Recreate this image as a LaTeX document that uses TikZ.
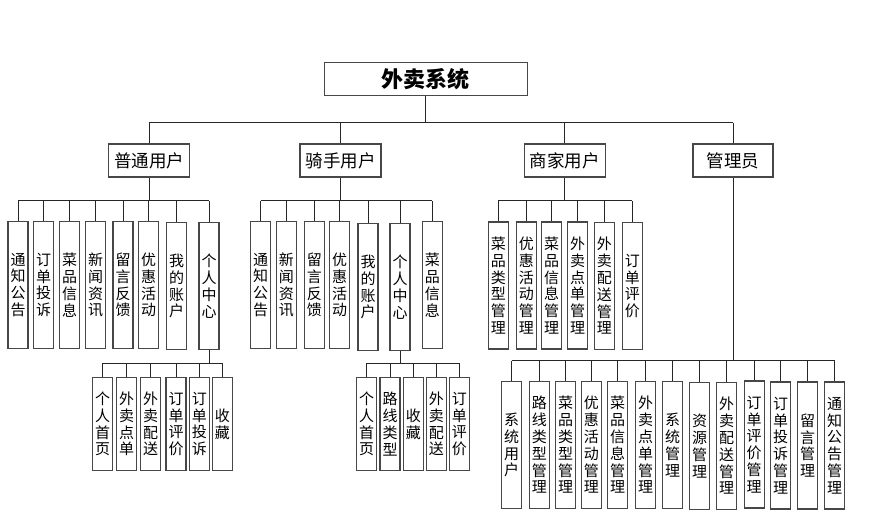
\documentclass[tikz,border=0pt]{standalone}
\usepackage{fontspec}
\newfontfamily\cjk{Noto Sans CJK SC}
\begin{document}
\begin{tikzpicture}[x=1pt,y=-1pt,
  vb/.style={draw=black!72, line width=1.3pt, inner sep=0pt, minimum width=20pt, align=center, font={\cjk\fontsize{15}{16.8}\selectfont}},
  lv/.style={draw=black!72, line width=1.3pt, inner sep=0pt, minimum height=33pt, font={\cjk\fontsize{17.5}{20}\selectfont}},
  ln/.style={draw=black!85, line width=1pt}]
\useasboundingbox (0,0) rectangle (870,523);
\fill[white] (0,0) rectangle (870,523);
% root and level 2
\node[lv, minimum width=203pt, font={\cjk\bfseries\fontsize{22}{26}\selectfont}] (root) at (425.8,79) {外卖系统};
\node[lv, minimum width=81pt] (p1) at (149,160.5) {普通用户};
\node[lv, minimum width=81pt] (p2) at (340.5,160.5) {骑手用户};
\node[lv, minimum width=81pt] (p3) at (564.7,160.5) {商家用户};
\node[lv, minimum width=80pt] (p4) at (733,160.5) {管理员};
% group A
\begin{scope}[every node/.append style={minimum height=127pt}]
\node[vb] (a1) at (18,285) {通\\知\\公\\告};
\node[vb] (a2) at (43.7,285) {订\\单\\投\\诉};
\node[vb] (a3) at (69.7,285) {菜\\品\\信\\息};
\node[vb] (a4) at (95.7,285) {新\\闻\\资\\讯};
\node[vb] (a5) at (123,285) {留\\言\\反\\馈};
\node[vb] (a6) at (148.7,285) {优\\惠\\活\\动};
\node[vb] (a7) at (176.7,286) {我\\的\\账\\户};
\node[vb] (a8) at (209,286) {个\\人\\中\\心};
% group B
\node[vb] (b1) at (260.7,285) {通\\知\\公\\告};
\node[vb] (b2) at (286.3,285) {新\\闻\\资\\讯};
\node[vb] (b3) at (314.3,285) {留\\言\\反\\馈};
\node[vb] (b4) at (339.7,285) {优\\惠\\活\\动};
\node[vb] (b5) at (368,287) {我\\的\\账\\户};
\node[vb] (b6) at (400,287) {个\\人\\中\\心};
\node[vb] (b7) at (432.3,285) {菜\\品\\信\\息};
% group C
\node[vb] (c1) at (498.3,285.5) {菜\\品\\类\\型\\管\\理};
\node[vb] (c2) at (526.3,285.5) {优\\惠\\活\\动\\管\\理};
\node[vb] (c3) at (551.7,285.5) {菜\\品\\信\\息\\管\\理};
\node[vb] (c4) at (577.7,285.5) {外\\卖\\点\\单\\管\\理};
\node[vb] (c5) at (604.3,286) {外\\卖\\配\\送\\管\\理};
\node[vb] (c6) at (632.3,286) {订\\单\\评\\价};
% group F
\node[vb] (f1) at (511.7,445) {系\\统\\用\\户};
\node[vb] (f2) at (539.3,445) {路\\线\\类\\型\\管\\理};
\node[vb] (f3) at (565.7,445) {菜\\品\\类\\型\\管\\理};
\node[vb] (f4) at (591.3,445) {优\\惠\\活\\动\\管\\理};
\node[vb] (f5) at (617.7,445) {菜\\品\\信\\息\\管\\理};
\node[vb] (f6) at (645.7,445) {外\\卖\\点\\单\\管\\理};
\node[vb] (f7) at (672.5,445) {系\\统\\管\\理};
\node[vb] (f8) at (699.7,446) {资\\源\\管\\理};
\node[vb] (f9) at (726.7,446) {外\\卖\\配\\送\\管\\理};
\node[vb] (f10) at (754.2,444.5) {订\\单\\评\\价\\管\\理};
\node[vb] (f11) at (780.7,445.5) {订\\单\\投\\诉\\管\\理};
\node[vb] (f12) at (807.7,445.5) {留\\言\\管\\理};
\node[vb] (f13) at (834.7,445.5) {通\\知\\公\\告\\管\\理};
\end{scope}
% group D
\begin{scope}[every node/.append style={minimum height=93pt}]
\node[vb] (d1) at (102.7,424) {个\\人\\首\\页};
\node[vb] (d2) at (126.7,424) {外\\卖\\点\\单};
\node[vb] (d3) at (150.7,424) {外\\卖\\配\\送};
\node[vb] (d4) at (176,424) {订\\单\\评\\价};
\node[vb] (d5) at (199.3,424) {订\\单\\投\\诉};
\node[vb] (d6) at (222.3,424) {收\\藏};
% group E
\node[vb] (e1) at (366.7,424) {个\\人\\首\\页};
\node[vb] (e2) at (390,424) {路\\线\\类\\型};
\node[vb] (e3) at (413.3,424) {收\\藏};
\node[vb] (e4) at (436.3,424) {外\\卖\\配\\送};
\node[vb] (e5) at (459.3,424) {订\\单\\评\\价};
\end{scope}
% bus levels
\coordinate (bus0) at (0,122.7);
\coordinate (bus1) at (0,200.5);
\coordinate (bus2) at (0,363.3);
\coordinate (bus3) at (0,360.7);
% root connectors
\draw[ln] (root.south) -- (root.south |- bus0);
\draw[ln] (p1.north |- bus0) -- (p4.north |- bus0);
\foreach \n in {p1,p2,p3,p4} \draw[ln] (\n.north) -- (\n.north |- bus0);
% group A
\draw[ln] (p1.south) -- (p1.south |- bus1);
\draw[ln] (a1.north |- bus1) -- (a8.north |- bus1);
\foreach \n in {a1,a2,a3,a4,a5,a6,a7,a8} \draw[ln] (\n.north) -- (\n.north |- bus1);
% group B
\draw[ln] (p2.south) -- (p2.south |- bus1);
\draw[ln] (b1.north |- bus1) -- (b7.north |- bus1);
\foreach \n in {b1,b2,b3,b4,b5,b6,b7} \draw[ln] (\n.north) -- (\n.north |- bus1);
% group C
\draw[ln] (p3.south) -- (p3.south |- bus1);
\draw[ln] (c1.north |- bus1) -- (c6.north |- bus1);
\foreach \n in {c1,c2,c3,c4,c5,c6} \draw[ln] (\n.north) -- (\n.north |- bus1);
% group F
\draw[ln] (p4.south) -- (p4.south |- bus3);
\draw[ln] (f1.north |- bus3) -- (f13.north |- bus3);
\foreach \n in {f1,f2,f3,f4,f5,f6,f7,f8,f9,f10,f11,f12,f13} \draw[ln] (\n.north) -- (\n.north |- bus3);
% group D
\draw[ln] (a8.south) -- (a8.south |- bus2);
\draw[ln] (d1.north |- bus2) -- (d6.north |- bus2);
\foreach \n in {d1,d2,d3,d4,d5,d6} \draw[ln] (\n.north) -- (\n.north |- bus2);
% group E
\draw[ln] (b6.south) -- (b6.south |- bus2);
\draw[ln] (e1.north |- bus2) -- (e5.north |- bus2);
\foreach \n in {e1,e2,e3,e4,e5} \draw[ln] (\n.north) -- (\n.north |- bus2);
\end{tikzpicture}
\end{document}
